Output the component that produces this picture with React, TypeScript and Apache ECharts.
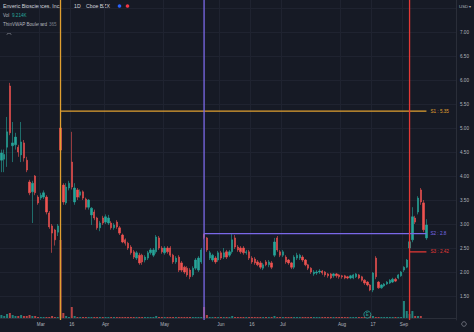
import React, { useEffect, useRef } from "react";
import * as echarts from "echarts";

// ---- categories (trading days) ----
const FIRST_DAY = "2021-02-08";
const HOLIDAYS = ["2021-02-15", "2021-04-02", "2021-05-31", "2021-07-05", "2021-09-06"];
const TOTAL_SLOTS = 162; // includes empty space to the right of the last candle

const TIME_LABELS: Record<string, string> = {
  "2021-03-01": "Mar",
  "2021-03-16": "16",
  "2021-04-01": "Apr",
  "2021-05-03": "May",
  "2021-06-01": "Jun",
  "2021-06-16": "16",
  "2021-07-01": "Jul",
  "2021-08-02": "Aug",
  "2021-08-17": "17",
  "2021-09-01": "Sep",
};

const PRICE_MIN = 1.0;
const PRICE_MAX = 7 + 32 / 48;
const PRICE_TICKS_MIN = 1.5;
const PRICE_TICKS_MAX = 7.0;

// ---- candles: [open, close, low, high] ----
const candles: number[][] = [
  [4.33, 4.48, 4.08, 4.55], [4.35, 4.45, 4.08, 4.55], [4.6, 4.92, 4.19, 5.23], [5.875, 4.9, 4.85, 5.94],
  [4.63, 4.69, 4.29, 5.125], [4.65, 4.81, 4.55, 4.9], [4.6, 4.5, 4.4, 4.65], [4.44, 4.71, 4.29, 5.125],
  [4.69, 4.375, 4.3, 4.75], [4.33, 4.125, 4.08, 4.4], [3.875, 3.65, 3.6, 3.92], [3.67, 3.85, 3.02, 3.9],
  [4.0, 3.65, 3.6, 4.02], [3.56, 3.44, 3.4, 3.6], [3.54, 3.6, 3.5, 3.65], [3.56, 3.65, 3.52, 3.7],
  [3.56, 3.25, 3.2, 3.6], [3.23, 2.94, 2.9, 3.27], [2.96, 2.81, 2.4, 3.0], [2.875, 2.67, 2.55, 2.9],
  [2.83, 2.96, 2.75, 3.0], [5.0, 4.54, 4.5, 5.35], [3.81, 3.46, 3.4, 3.85], [3.44, 3.77, 3.4, 3.85],
  [3.75, 3.85, 3.7, 3.9], [4.29, 3.77, 3.72, 4.92], [3.46, 3.75, 3.4, 3.85], [3.71, 3.56, 3.5, 3.75],
  [3.6, 3.67, 3.55, 3.72], [3.67, 3.54, 3.5, 3.7], [3.52, 3.35, 3.3, 3.55], [3.35, 3.5, 3.3, 3.52],
  [3.19, 3.33, 2.98, 3.35], [3.25, 3.125, 3.08, 3.3], [3.125, 2.92, 2.88, 3.15], [2.92, 3.02, 2.85, 3.06],
  [3.125, 3.02, 2.98, 3.17], [3.04, 3.15, 3.0, 3.2], [3.02, 3.125, 2.98, 3.19], [3.02, 2.92, 2.88, 3.06],
  [2.92, 2.98, 2.88, 3.02], [3.04, 2.94, 2.9, 3.08], [2.92, 2.81, 2.77, 2.96], [2.77, 2.625, 2.6, 2.8],
  [2.67, 2.6, 2.55, 2.7], [2.6, 2.5, 2.46, 2.63], [2.52, 2.4, 2.36, 2.56], [2.42, 2.31, 2.27, 2.46],
  [2.29, 2.4, 2.25, 2.44], [2.35, 2.19, 2.15, 2.4], [2.35, 2.21, 2.15, 2.38], [2.25, 2.31, 2.2, 2.35],
  [2.29, 2.4, 2.25, 2.44], [2.4, 2.46, 2.36, 2.5], [2.35, 2.46, 2.31, 2.5], [2.42, 2.73, 2.38, 2.77],
  [2.71, 2.5, 2.46, 2.75], [2.5, 2.42, 2.38, 2.54], [2.4, 2.5, 2.36, 2.54], [2.5, 2.42, 2.38, 2.54],
  [2.5, 2.35, 2.31, 2.54], [2.35, 2.21, 2.17, 2.38], [2.21, 2.29, 2.17, 2.33], [2.31, 2.04, 2.0, 2.35],
  [2.19, 2.04, 2.0, 2.23], [2.1, 2.0, 1.96, 2.13], [2.08, 1.94, 1.9, 2.12], [2.04, 1.9, 1.85, 2.08],
  [1.94, 2.08, 1.9, 2.12], [2.08, 2.25, 2.04, 2.29], [2.04, 2.29, 2.0, 2.33], [2.21, 2.46, 2.17, 2.5],
  [2.79, 2.72, 2.68, 2.8], [2.71, 2.46, 2.42, 2.73], [2.29, 2.4, 2.25, 2.44], [2.25, 2.35, 2.21, 2.38],
  [2.29, 2.21, 2.17, 2.33], [2.25, 2.4, 2.21, 2.44], [2.4, 2.29, 2.25, 2.44], [2.31, 2.4, 2.27, 2.5],
  [2.42, 2.31, 2.27, 2.46], [2.35, 2.42, 2.31, 2.46], [2.42, 2.67, 2.38, 2.79], [2.71, 2.52, 2.48, 2.77],
  [2.52, 2.46, 2.42, 2.56], [2.5, 2.42, 2.38, 2.54], [2.5, 2.4, 2.36, 2.54], [2.4, 2.42, 2.36, 2.46],
  [2.42, 2.29, 2.25, 2.46], [2.29, 2.21, 2.17, 2.33], [2.27, 2.19, 2.15, 2.31], [2.21, 2.15, 2.12, 2.25],
  [2.19, 2.1, 2.06, 2.23], [2.08, 2.15, 2.04, 2.19], [2.21, 2.15, 2.12, 2.25], [2.15, 2.21, 2.1, 2.25],
  [2.19, 2.1, 2.06, 2.23], [2.35, 2.625, 2.31, 2.71], [2.71, 2.46, 2.42, 2.75], [2.42, 2.35, 2.31, 2.46],
  [2.35, 2.42, 2.31, 2.46], [2.31, 2.21, 2.17, 2.35], [2.25, 2.19, 2.15, 2.27], [2.19, 2.1, 2.06, 2.21],
  [2.1, 2.31, 2.06, 2.35], [2.29, 2.35, 2.25, 2.4], [2.29, 2.35, 2.25, 2.38], [2.31, 2.25, 2.21, 2.35],
  [2.25, 2.15, 2.12, 2.27], [2.15, 2.08, 2.04, 2.17], [2.08, 2.0, 1.96, 2.1], [1.96, 2.0, 1.92, 2.04],
  [1.98, 2.0, 1.94, 2.04], [2.0, 2.02, 1.96, 2.06], [2.02, 1.98, 1.94, 2.04], [2.0, 1.94, 1.9, 2.02],
  [1.96, 1.92, 1.88, 1.98], [1.96, 1.875, 1.85, 1.98], [1.92, 1.96, 1.88, 1.98], [1.96, 1.92, 1.88, 1.98],
  [1.94, 1.9, 1.86, 1.96], [1.92, 1.9, 1.86, 1.94], [1.92, 1.875, 1.85, 1.94], [1.9, 1.875, 1.85, 1.92],
  [1.875, 1.92, 1.85, 1.94], [1.875, 1.94, 1.85, 1.96], [1.9, 1.96, 1.875, 1.98], [1.94, 1.875, 1.85, 1.96],
  [1.9, 1.83, 1.8, 1.92], [1.83, 1.77, 1.73, 1.85], [1.79, 1.73, 1.7, 1.81], [1.73, 1.625, 1.6, 1.75],
  [1.625, 1.98, 1.58, 2.0], [2.29, 1.9, 1.85, 2.33], [1.79, 1.67, 1.65, 1.81], [1.67, 1.73, 1.65, 1.75],
  [1.71, 1.75, 1.69, 1.77], [1.75, 1.79, 1.73, 1.81], [1.77, 1.83, 1.75, 1.85], [1.79, 1.85, 1.77, 1.88],
  [1.85, 1.81, 1.79, 1.88], [1.875, 1.94, 1.85, 1.96], [1.92, 2.0, 1.9, 2.02], [2.04, 2.1, 2.0, 2.12],
  [2.1, 2.25, 2.08, 2.27], [2.5, 2.63, 2.42, 2.75], [2.67, 3.15, 2.62, 3.35], [3.125, 3.04, 3.0, 3.17],
  [3.25, 3.54, 3.2, 3.58], [3.71, 3.46, 3.4, 3.75], [3.44, 2.88, 2.83, 3.5], [2.71, 2.98, 2.67, 3.1],
];

// ---- volume (millions of shares, estimated) ----
const volumes: number[] = [
  3, 2, 4, 5, 3, 2, 2, 3, 2, 2, 3, 2, 2, 1,
  1, 1, 1, 1, 2, 1, 1,
  78, 5, 2, 1, 11, 2, 1, 1, 1,
  1, 1, 1, 1, 1, 1, 1, 1, 1, 1, 1, 1, 1, 1, 1, 1, 1, 1, 1, 1,
  1, 1, 1, 1, 1, 2, 1, 1, 1, 1, 1, 1, 1, 1, 1, 1, 1, 1, 1, 1, 1, 1,
  11, 3,
  1, 1, 1, 1, 1, 1, 1, 1, 2, 1, 1, 1, 1, 1, 1, 1, 1, 1, 1, 1, 1, 1, 1, 2, 1, 1,
  1, 1, 1, 1, 1, 1, 1, 1, 1, 1, 1, 1, 1, 1, 1, 1, 1, 1, 1, 1, 1, 1, 1, 1, 1, 1, 1, 1,
  1, 1, 4, 4, 2, 1, 1, 1, 1, 1, 1, 1, 1, 1, 1,
  17, 7, 4, 7, 2, 2, 2,
];

// ---- support levels ----
const levelNames = ["S1", "S2", "S3"];
const levelValues = [5.35, 2.8, 2.42];
const levelStartIndex = [21, 72, 145];
const levelEndIndex = 151;

const BG = "#161a25";
const GRID = "#1f2330";
const AXIS = "#2a2e39";
const TEXT = "#b2b5be";
const UP = "#26a69a";
const DOWN = "#ef5350";
const LEVEL_COLORS = ["#e0a030", "#7a68e8", "#e53935"];
const FONT = "Liberation Sans, Arial, sans-serif";

function tradingDays(): string[] {
  const out: string[] = [];
  const [y, m, d] = FIRST_DAY.split("-").map(Number);
  const date = new Date(Date.UTC(y, m - 1, d));
  while (out.length < TOTAL_SLOTS) {
    const wd = date.getUTCDay();
    const s = date.toISOString().slice(0, 10);
    if (wd !== 0 && wd !== 6 && HOLIDAYS.indexOf(s) < 0) out.push(s);
    date.setUTCDate(date.getUTCDate() + 1);
  }
  return out;
}

export default function App() {
  const ref = useRef<HTMLDivElement>(null);

  useEffect(() => {
    document.body.style.margin = "0";
    document.body.style.background = BG;
    if (!ref.current) return;
    const chart = echarts.init(ref.current, undefined, { renderer: "svg" });
    const dates = tradingDays();

    const splitColors: string[] = [];
    for (let v = 1.0; v <= 7.5 + 1e-9; v += 0.5) splitColors.push(v < 1.4 ? "rgba(0,0,0,0)" : GRID);
    splitColors.push("rgba(0,0,0,0)");

    // level lines drawn as plain line series (vertical + horizontal segment)
    const levelSeries: any[] = [];
    levelValues.forEach((v, k) => {
      const ls = { color: LEVEL_COLORS[k], width: 1.3, type: "solid" };
      levelSeries.push({
        type: "line",
        xAxisIndex: 0,
        yAxisIndex: 0,
        silent: true,
        symbol: "none",
        z: 4,
        color: LEVEL_COLORS[k],
        lineStyle: ls,
        data: [
          [dates[levelStartIndex[k]], PRICE_MIN],
          [dates[levelStartIndex[k]], PRICE_MAX],
        ],
      });
      levelSeries.push({
        type: "line",
        xAxisIndex: 0,
        yAxisIndex: 0,
        silent: true,
        symbol: "none",
        z: 4,
        color: LEVEL_COLORS[k],
        lineStyle: ls,
        data: [
          [dates[levelStartIndex[k]], v],
          [dates[levelEndIndex], v],
        ],
        endLabel: {
          show: true,
          distance: 4,
          formatter: `${levelNames[k]} : ${v}`,
          color: LEVEL_COLORS[k],
          fontSize: 4.6,
          fontFamily: FONT,
        },
      });
    });

    const isLabelDay = (_i: number, value: string) => TIME_LABELS[value] !== undefined;

    chart.setOption({
      animation: false,
      backgroundColor: BG,
      grid: [
        { left: -1, right: 18, top: 0, bottom: 12 },
        { left: -1, right: 18, bottom: 14, height: 80 },
      ],
      xAxis: [
        {
          type: "category",
          gridIndex: 0,
          data: dates,
          boundaryGap: true,
          axisLine: { show: false },
          axisTick: { show: false },
          axisLabel: { show: false },
          splitLine: { show: true, interval: isLabelDay, lineStyle: { color: GRID, width: 1 } },
        },
        {
          type: "category",
          gridIndex: 1,
          data: dates,
          boundaryGap: true,
          axisLine: { show: true, lineStyle: { color: AXIS, width: 1 } },
          axisTick: { show: false },
          axisLabel: {
            show: true,
            interval: isLabelDay,
            formatter: (v: string) => TIME_LABELS[v] || "",
            color: TEXT,
            fontSize: 4.6,
            fontFamily: FONT,
            margin: 4,
            hideOverlap: false,
          },
          splitLine: { show: false },
        },
      ],
      yAxis: [
        {
          type: "value",
          gridIndex: 0,
          position: "right",
          min: PRICE_MIN,
          max: PRICE_MAX,
          interval: 0.5,
          axisLine: { show: true, lineStyle: { color: AXIS, width: 1 } },
          axisTick: { show: false },
          axisLabel: {
            color: TEXT,
            fontSize: 4.6,
            fontFamily: FONT,
            margin: 4,
            formatter: (v: number) =>
              v >= PRICE_TICKS_MIN - 1e-6 && v <= PRICE_TICKS_MAX + 1e-6 ? v.toFixed(2) : "",
          },
          splitLine: { show: true, lineStyle: { color: splitColors, width: 1 } },
        },
        {
          type: "value",
          gridIndex: 1,
          min: 0,
          max: 80,
          show: false,
          splitLine: { show: false },
        },
      ],
      series: [
        {
          type: "bar",
          xAxisIndex: 1,
          yAxisIndex: 1,
          barWidth: 2,
          z: 1,
          data: volumes.map((v, i) => ({
            value: v,
            itemStyle: {
              color: candles[i][1] >= candles[i][0] ? "rgba(38,166,154,0.75)" : "rgba(239,83,80,0.75)",
            },
          })),
          markPoint: {
            silent: true,
            symbol: "circle",
            symbolSize: 7,
            itemStyle: { color: BG, borderColor: UP, borderWidth: 0.8 },
            label: { show: true, formatter: "E", color: UP, fontSize: 4.5, fontFamily: FONT, position: "inside" },
            data: [{ coord: [dates[130], 3.5] }],
          },
        },
        {
          type: "candlestick",
          xAxisIndex: 0,
          yAxisIndex: 0,
          barWidth: 1.9,
          z: 3,
          itemStyle: {
            color: UP,
            color0: DOWN,
            borderColor: UP,
            borderColor0: DOWN,
            borderWidth: 0.6,
          },
          data: candles,
        },
        ...levelSeries,
      ],
      graphic: [
        { type: "text", x: 3, y: 6, style: { text: "Enveric Biosciences, Inc.", fill: "#d1d4dc", fontSize: 5.2, fontFamily: FONT, textVerticalAlign: "middle" } },
        { type: "text", x: 74, y: 6, style: { text: "1D", fill: "#d1d4dc", fontSize: 5.2, fontFamily: FONT, textVerticalAlign: "middle" } },
        { type: "text", x: 86, y: 6, style: { text: "Cboe BZX", fill: "#d1d4dc", fontSize: 5.2, fontFamily: FONT, textVerticalAlign: "middle" } },
        { type: "circle", shape: { cx: 119.5, cy: 6, r: 1.8 }, style: { fill: "#2962ff" } },
        { type: "circle", shape: { cx: 127.5, cy: 6, r: 1.8 }, style: { fill: "#f23645" } },
        { type: "text", x: 3, y: 15, style: { text: "Vol", fill: TEXT, fontSize: 4.6, fontFamily: FONT, textVerticalAlign: "middle" } },
        { type: "text", x: 12, y: 15, style: { text: "9.214K", fill: UP, fontSize: 4.6, fontFamily: FONT, textVerticalAlign: "middle" } },
        { type: "text", x: 3, y: 24, style: { text: "ThinVWAP Boulevard", fill: TEXT, fontSize: 4.6, fontFamily: FONT, textVerticalAlign: "middle" } },
        { type: "text", x: 49, y: 24, style: { text: "365", fill: "#787b86", fontSize: 4.6, fontFamily: FONT, textVerticalAlign: "middle" } },
        { type: "polyline", shape: { points: [[7, 34.5], [9, 32.5], [11, 34.5]] }, style: { stroke: TEXT, lineWidth: 0.8, fill: "none" } },
        { type: "text", x: 459, y: 6, style: { text: "USD ▾", fill: TEXT, fontSize: 4.4, fontFamily: FONT, textVerticalAlign: "middle" } },
        { type: "circle", shape: { cx: 464, cy: 324, r: 2.3 }, style: { fill: "none", stroke: "#787b86", lineWidth: 0.8 } },
      ],
    });

    return () => chart.dispose();
  }, []);

  return (
    <div
      ref={ref}
      style={{ position: "fixed", left: 0, top: 0, width: 474, height: 332, background: BG }}
    />
  );
}
